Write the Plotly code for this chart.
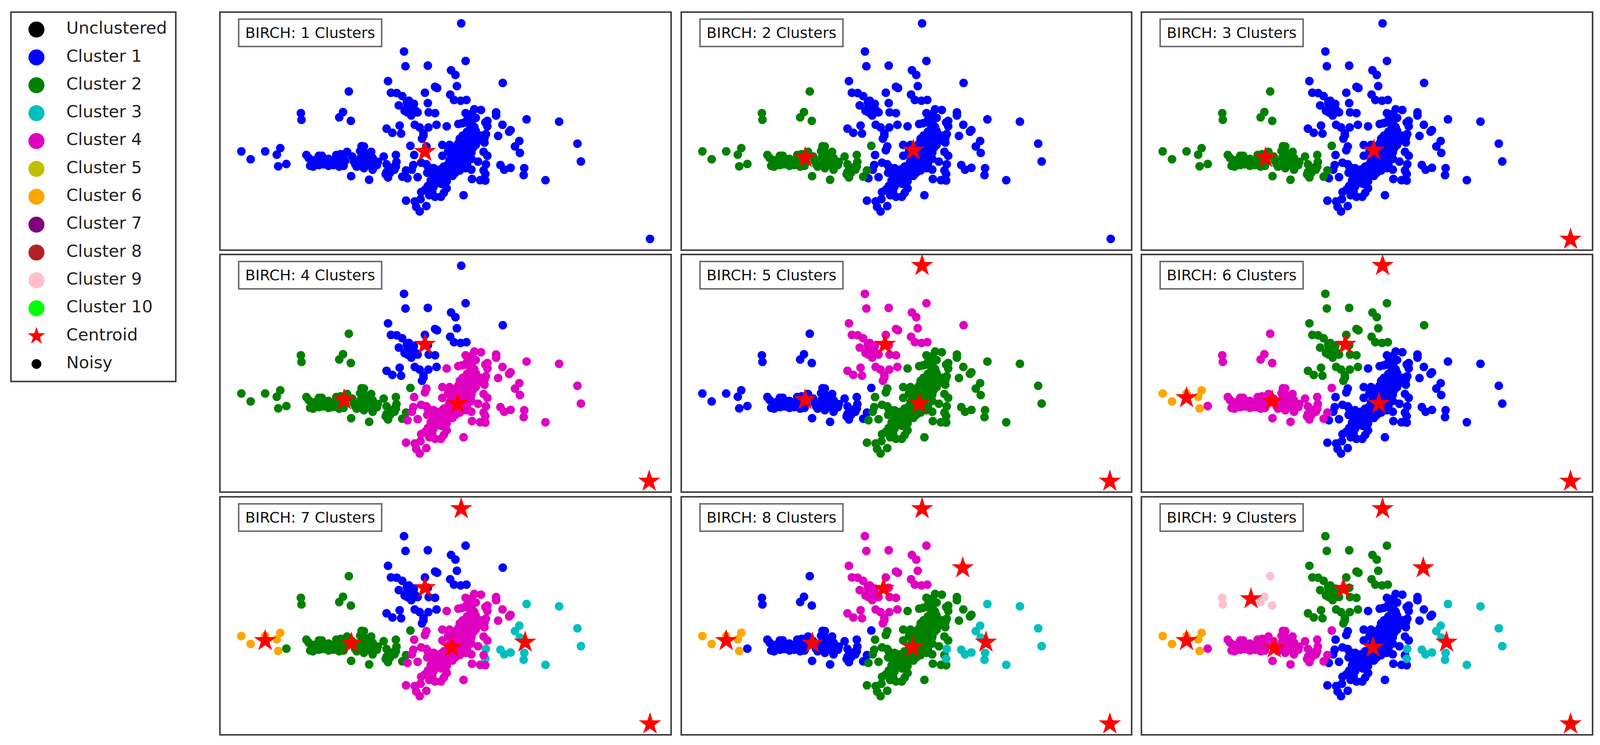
import plotly.graph_objects as go

# point groups
far_left_x = [78, 110, 160, 212, 200, 205]
far_left_y = [902, 953, 902, 881, 923, 998]

pink_x = [448, 283, 285, 428, 415, 455]
pink_y = [515, 655, 698, 648, 682, 705]

band_x = [233, 302, 310, 325, 315, 325, 345, 355, 350, 365, 378, 378, 390, 405, 420, 405, 415, 430, 442, 430,
          460, 465, 475, 492, 500, 487, 520, 500, 515, 500, 530, 530, 548, 568, 578, 578, 610, 612, 605, 583,
          456, 518, 585, 600, 645, 632, 660, 525, 540, 470, 330, 395, 410, 320, 335, 345, 360, 370, 385, 395,
          410, 420, 435, 490, 510, 520, 535, 545, 510, 525, 490, 505, 590, 605, 575, 610, 340, 355]
band_y = [983, 925, 945, 960, 995, 1000, 930, 930, 985, 960, 950, 995, 970, 925, 920, 960, 1000, 995, 905, 940,
          935, 965, 1000, 868, 870, 900, 915, 1010, 960, 955, 945, 1020, 970, 935, 985, 1035, 925, 970, 1020, 1070,
          1062, 1085, 1030, 1010, 1025, 1065, 866, 935, 985, 985, 985, 990, 975, 985, 975, 990, 985, 975, 985, 960,
          940, 965, 965, 985, 990, 975, 985, 990, 935, 905, 940, 915, 1040, 1000, 1050, 1000, 950, 955]

upper_x = [638, 643, 720, 850, 800, 815, 583, 820, 745, 752, 710, 593, 613, 632, 797, 810, 833, 853, 620, 648,
           672, 720, 640, 663, 685, 660, 723, 745, 578, 598, 623, 628, 675, 692, 722, 750, 705, 700, 650, 665,
           655, 665, 650, 670, 655, 670, 678, 705]
upper_y = [257, 352, 348, 318, 378, 408, 448, 480, 485, 493, 523, 523, 525, 545, 535, 570, 575, 570, 605, 585,
           595, 590, 640, 670, 650, 630, 650, 655, 755, 782, 735, 787, 730, 747, 747, 730, 800, 820, 610, 640,
           600, 625, 650, 615, 575, 650, 640, 785]

solo_x = [978]
solo_y = [460]

centre_x = [692, 680, 715, 675, 695, 645, 697, 720, 725, 745, 765, 735, 785, 775, 785, 775, 745, 760, 730, 760,
            745, 730, 720, 718, 740, 760, 775, 790, 800, 830, 810, 780, 843, 872, 900, 918, 912, 893, 870, 855,
            855, 870, 840, 820, 795, 770, 770, 795, 815, 830, 840, 860, 870, 885, 915, 900, 880, 855, 885, 920,
            875, 850, 825, 838, 785, 925, 918, 925, 912, 925, 850, 880, 903, 865, 885, 955, 955, 977, 1000, 1005,
            962, 715, 710, 673, 697, 670, 665, 650, 685, 810, 830, 850, 840, 870, 830, 800, 850, 855, 870, 715,
            735, 750, 765, 740, 725, 710, 755, 770, 785, 805, 795, 815, 820, 840, 850, 835, 815, 805, 845, 860,
            825, 845, 860, 835, 815, 845, 860, 825, 880, 850, 875, 790, 800, 880, 885, 890, 865, 905, 915, 875,
            855, 870, 860]
centre_y = [1290, 1260, 1255, 1225, 1210, 1220, 1165, 1125, 1185, 1195, 1195, 1160, 1140, 1170, 1095, 1115, 1100, 1085, 1090, 1060,
            1040, 1030, 1000, 1040, 1010, 1020, 1000, 985, 1040, 1025, 1010, 1030, 1185, 1080, 1088, 1090, 1025, 968, 1020, 985,
            960, 910, 940, 950, 960, 930, 860, 860, 900, 820, 850, 870, 830, 860, 845, 830, 790, 775, 770, 790,
            735, 715, 725, 720, 740, 705, 715, 740, 905, 930, 655, 630, 635, 680, 685, 650, 670, 730, 775, 765,
            802, 870, 895, 925, 975, 990, 1020, 1075, 1068, 930, 880, 900, 800, 800, 985, 1000, 830, 850, 950, 985,
            1060, 1075, 1110, 1130, 1155, 1150, 1040, 1050, 1050, 1060, 1020, 1040, 1000, 1000, 1010, 960, 960, 975, 965, 930,
            920, 915, 900, 890, 870, 870, 845, 850, 830, 800, 880, 900, 925, 745, 790, 810, 760, 800, 815, 765,
            700, 660, 700]

right_x = [1060, 1172, 1235, 1247, 1125, 1035, 1020, 1037, 970, 983, 1005, 1052, 1050, 920, 918]
right_y = [695, 710, 852, 967, 1088, 835, 870, 912, 990, 1020, 1008, 1010, 1055, 985, 1048]

top_out_x = [835]
top_out_y = [75]

br_out_x = [1485]
br_out_y = [1467]

groups = {
    'far_left': (far_left_x, far_left_y),
    'pink': (pink_x, pink_y),
    'band': (band_x, band_y),
    'upper': (upper_x, upper_y),
    'solo': (solo_x, solo_y),
    'centre': (centre_x, centre_y),
    'right': (right_x, right_y),
    'top_out': (top_out_x, top_out_y),
    'br_out': (br_out_x, br_out_y),
}

# which cluster each group falls in, panel by panel
panel_clusters = [
    {1: ['far_left', 'pink', 'band', 'upper', 'solo', 'centre', 'right', 'top_out', 'br_out']},
    {1: ['upper', 'solo', 'centre', 'right', 'top_out', 'br_out'], 2: ['far_left', 'pink', 'band']},
    {1: ['upper', 'solo', 'centre', 'right', 'top_out'], 2: ['far_left', 'pink', 'band'], 3: ['br_out']},
    {1: ['upper', 'solo', 'top_out'], 2: ['far_left', 'pink', 'band'], 3: ['br_out'], 4: ['centre', 'right']},
    {1: ['far_left', 'pink', 'band'], 2: ['centre', 'right'], 3: ['br_out'], 4: ['upper', 'solo'], 5: ['top_out']},
    {1: ['centre', 'right'], 2: ['upper', 'solo'], 3: ['br_out'], 4: ['band', 'pink'], 5: ['top_out'], 6: ['far_left']},
    {1: ['upper', 'solo'], 2: ['band', 'pink'], 3: ['right'], 4: ['centre'], 5: ['top_out'], 6: ['far_left'], 7: ['br_out']},
    {1: ['band', 'pink'], 2: ['centre'], 3: ['right'], 4: ['upper'], 5: ['top_out'], 6: ['far_left'], 7: ['br_out'], 8: ['solo']},
    {1: ['centre'], 2: ['upper'], 3: ['right'], 4: ['band'], 5: ['top_out'], 6: ['far_left'], 7: ['br_out'], 8: ['solo'], 9: ['pink']},
]

star_x = [
    [710],
    [432, 805],
    [432, 805, 1482],
    [710, 432, 822, 1482],
    [432, 707, 825, 835, 1482],
    [160, 455, 707, 822, 835, 1482],
    [160, 457, 710, 802, 1055, 835, 1485],
    [160, 457, 702, 802, 1055, 835, 975, 1482],
    [160, 462, 700, 802, 1055, 835, 975, 382, 1482],
]
star_y = [
    [904],
    [943, 895],
    [943, 895, 1470],
    [585, 943, 968, 1470],
    [943, 585, 968, 75, 1470],
    [930, 950, 585, 968, 75, 1470],
    [932, 948, 590, 975, 942, 80, 1470],
    [932, 948, 595, 975, 942, 80, 462, 1470],
    [932, 980, 595, 975, 942, 80, 462, 662, 1470],
]

legend_labels = ['Unclustered', 'Cluster 1', 'Cluster 2', 'Cluster 3', 'Cluster 4', 'Cluster 5', 'Cluster 6',
                 'Cluster 7', 'Cluster 8', 'Cluster 9', 'Cluster 10', 'Centroid', 'Noisy']
colors = ['#000000', '#0000ff', '#008000', '#00bfbf', '#e000c0', '#bfbf00', '#ffa500',
          '#800080', '#b22222', '#ffc0cb', '#00ff00']

W, H = 4390, 1906
panel_left = [606, 1871, 3134]
panel_right = [1839, 3103, 4367]
panel_top = [33, 653, 1273]
panel_bottom = [638, 1257, 1878]
LINE = '#404040'

fig = go.Figure()
layout = {}

for n in range(9):
    row, col = n // 3, n % 3
    suffix = str(n + 1) if n else ''
    layout['xaxis' + suffix] = dict(domain=[panel_left[col] / W, panel_right[col] / W], range=[7.5, 1554.6],
                                    anchor='y' + suffix, visible=True, showgrid=False, zeroline=False,
                                    showticklabels=False, ticks='', showline=True, mirror=True,
                                    linecolor=LINE, linewidth=4)
    layout['yaxis' + suffix] = dict(domain=[1 - panel_bottom[row] / H, 1 - panel_top[row] / H], range=[1534.6, 7.6],
                                    anchor='x' + suffix, showgrid=False, zeroline=False,
                                    showticklabels=False, ticks='', showline=True, mirror=True,
                                    linecolor=LINE, linewidth=4)

    for cluster, members in panel_clusters[n].items():
        xs, ys = [], []
        for m in members:
            xs += groups[m][0]
            ys += groups[m][1]
        fig.add_trace(go.Scatter(x=xs, y=ys, mode='markers', xaxis='x' + suffix, yaxis='y' + suffix,
                                 marker=dict(color=colors[cluster], size=22, line=dict(width=0)),
                                 name=legend_labels[cluster], showlegend=False))
    fig.add_trace(go.Scatter(x=star_x[n], y=star_y[n], mode='markers', xaxis='x' + suffix, yaxis='y' + suffix,
                             marker=dict(color='#ff0000', size=43, symbol='star', line=dict(width=0)),
                             name='Centroid', showlegend=False))

# legend is its own small axes so the symbols can be as big as in the original
layout['xaxis10'] = dict(domain=[32 / W, 480 / W], range=[0, 448], anchor='y10', showgrid=False, zeroline=False,
                         showticklabels=False, ticks='', showline=True, mirror=True, linecolor=LINE, linewidth=4)
layout['yaxis10'] = dict(domain=[1 - 974 / H, 1 - 33 / H], range=[12.6, -0.595], anchor='x10', showgrid=False,
                         zeroline=False, showticklabels=False, ticks='', showline=True, mirror=True,
                         linecolor=LINE, linewidth=4)
rows = list(range(len(legend_labels)))
legend_colors = colors + ['#ff0000', '#000000']
legend_symbols = ['circle'] * 11 + ['star', 'circle']
legend_sizes = [41] * 11 + [34, 25]
fig.add_trace(go.Scatter(x=[68] * len(rows), y=rows, mode='markers', xaxis='x10', yaxis='y10',
                         marker=dict(color=legend_colors, symbol=legend_symbols, size=legend_sizes, opacity=1, line=dict(width=0)),
                         showlegend=False))
fig.add_trace(go.Scatter(x=[150] * len(rows), y=rows, mode='text', text=legend_labels, textposition='middle right',
                         textfont=dict(family='DejaVu Sans', size=43, color='#222222'),
                         xaxis='x10', yaxis='y10', showlegend=False))

annotations = []
for n in range(9):
    suffix = str(n + 1) if n else ''
    annotations.append(dict(text='BIRCH: %d Clusters' % (n + 1), xref='x' + suffix + ' domain', yref='y' + suffix + ' domain',
                            x=47 / 1233, y=1 - 14 / 605, xanchor='left', yanchor='top', showarrow=False,
                            width=362, height=66, align='center', valign='middle', bgcolor='white',
                            bordercolor='#707070', borderwidth=4, borderpad=0,
                            font=dict(family='DejaVu Sans', size=38, color='#111111')))

fig.update_layout(**layout)
fig.update_layout(autosize=True, margin=dict(l=0, r=0, t=0, b=0), paper_bgcolor='white', plot_bgcolor='white',
                  annotations=annotations, showlegend=False)

fig.write_html("out.html", config={'displayModeBar': False},
               post_script="document.body.style.margin = '0'; Plotly.Plots.resize(document.getElementById('{plot_id}'));")
